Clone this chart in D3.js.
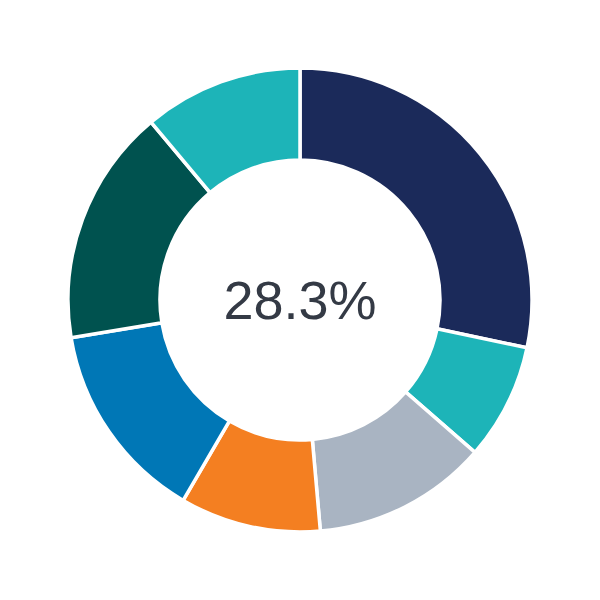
<!DOCTYPE html>
<html>
<head>
<meta charset="utf-8">
<script src="https://cdn.jsdelivr.net/npm/d3@7"></script>
<style>
  body { margin: 0; background: #fff; }
</style>
</head>
<body>
<svg width="600" height="600"></svg>
<script>
// slice shares, clockwise from 12 o'clock
const categories = ['A', 'B', 'C', 'D', 'E', 'F', 'G'];
const values = [28.3, 8.1, 12.2, 9.8, 14.0, 16.5, 11.1];
const colors = ['#1b2a5a', '#1db4b8', '#a9b4c2', '#f47f21', '#0077b6', '#00524f', '#1db4b8'];
const centerLabel = '28.3%';

const svg = d3.select('svg');
const width = +svg.attr('width');
const height = +svg.attr('height');

const outerRadius = 232;
const innerRadius = 140;

const g = svg.append('g')
    .attr('transform', `translate(${width / 2},${height / 2})`);

const color = d3.scaleOrdinal()
    .domain(categories)
    .range(colors);

const pie = d3.pie()
    .sort(null)
    .value(d => d.value);

const arc = d3.arc()
    .innerRadius(innerRadius)
    .outerRadius(outerRadius);

const data = categories.map((c, i) => ({ name: c, value: values[i] }));

g.selectAll('path')
    .data(pie(data))
    .enter().append('path')
    .attr('d', arc)
    .attr('fill', d => color(d.data.name))
    .attr('stroke', '#fff')
    .attr('stroke-width', 3.5)
    .attr('stroke-linejoin', 'miter');

//center text
g.append('text')
    .attr('text-anchor', 'middle')
    .attr('dy', '0.36em')
    .attr('font-family', 'Liberation Sans, Arial, sans-serif')
    .attr('font-size', 54)
    .attr('fill', '#343a45')
    .text(centerLabel);
</script>
</body>
</html>
